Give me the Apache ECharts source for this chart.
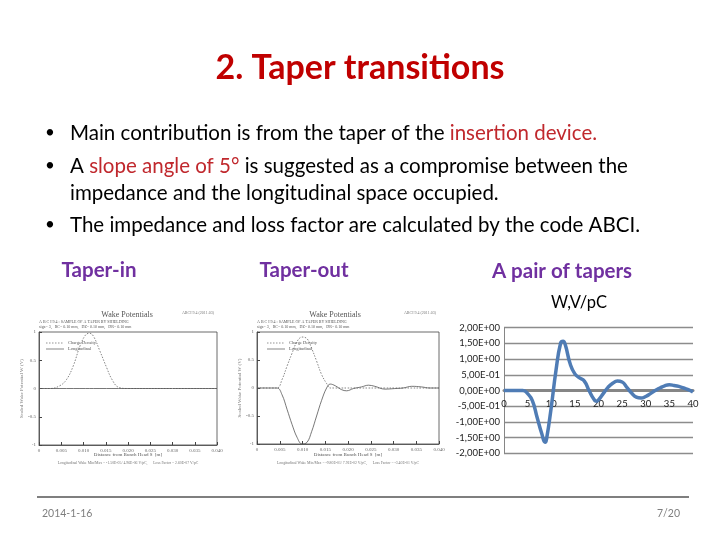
<!DOCTYPE html>
<html><head><meta charset="utf-8">
<script src="https://cdn.jsdelivr.net/npm/echarts@6/dist/echarts.min.js"></script>
<style>html,body{margin:0;padding:0;background:#fff}#c{width:720px;height:540px}</style>
</head><body><div id="c"></div>
<script>
// ---- Main chart: W, V/pC for a pair of tapers ----
const wakeX = [0, 1, 2, 3, 4, 5, 6, 7, 8, 8.7, 9, 10, 11, 12, 12.5, 13, 14, 15, 16, 17, 18, 19, 19.6, 20, 21, 22, 23, 24, 25, 26, 27, 28, 29, 30, 31, 32, 33, 34, 35, 36, 37, 38, 39, 40];
const wakeY = [0, 0, 0, 0, 0, -0.1, -0.32, -0.85, -1.38, -1.65, -1.55, -0.53, 0.64, 1.52, 1.57, 1.44, 0.85, 0.53, 0.40, 0.30, 0.0, -0.27, -0.34, -0.30, -0.10, 0.10, 0.23, 0.30, 0.27, 0.10, -0.08, -0.21, -0.24, -0.19, -0.10, 0.0, 0.08, 0.15, 0.18, 0.16, 0.13, 0.08, 0.03, -0.05];
const yTickLabels = ['-2,00E+00', '-1,50E+00', '-1,00E+00', '-5,00E-01', '0,00E+00', '5,00E-01', '1,00E+00', '1,50E+00', '2,00E+00'];
const xTickLabels = ['0', '5', '10', '15', '20', '25', '30', '35', '40'];

// ---- Taper-in (ABCI wake potentials) ----
const inX = [0, 0.0025, 0.0047, 0.0062, 0.0077, 0.0092, 0.0104, 0.0113, 0.0122, 0.0137, 0.0152, 0.0164, 0.0179, 0.02, 0.03, 0.04];
const inCharge = [0, 0, 0.05, 0.16, 0.40, 0.75, 0.94, 0.98, 0.93, 0.66, 0.37, 0.16, 0.02, 0, 0, 0];
const inLong = [0, 0, 0, 0, 0, 0, 0, 0, 0, 0, 0, 0, 0, 0, 0, 0];
const inTicks = ['0', '0.005', '0.010', '0.015', '0.020', '0.025', '0.030', '0.035', '0.040'];

// ---- Taper-out (ABCI wake potentials) ----
const outX = [0, 0.0044, 0.0055, 0.0066, 0.0077, 0.0088, 0.0099, 0.011, 0.012, 0.0131, 0.0142, 0.0153, 0.0161, 0.0172, 0.0186, 0.0197, 0.0212, 0.023, 0.0245, 0.0259, 0.0281, 0.0303, 0.0321, 0.034, 0.0361, 0.038, 0.04];
const outCharge = [0, 0, 0.15, 0.39, 0.62, 0.83, 0.91, 0.88, 0.71, 0.48, 0.24, 0.08, 0.0, 0, 0, 0, 0, 0, 0, 0, 0, 0, 0, 0, 0, 0, 0];
const outLong = [0, 0, -0.12, -0.38, -0.65, -0.88, -1.0, -0.97, -0.78, -0.5, -0.22, 0.0, 0.07, 0.04, -0.03, -0.05, -0.01, 0.02, 0.05, 0.03, -0.02, -0.01, 0.0, 0.03, 0.02, 0.0, 0.0];
const outTicks = ['0', '0.005', '0.010', '0.015', '0.020', '0.025', '0.030', '0.035', '0.040'];
const smallYTicks = ['-1', '-0.5', '0', '0.5', '1'];

const pairs = (xs, ys) => xs.map((x, i) => [x, ys[i]]);
const chart = echarts.init(document.getElementById('c'));
const F = 'Lato, "Open Sans", sans-serif';
const S = '"Liberation Serif", serif';

function smallX(grid, ticks) {
  return {
    type: 'value', gridIndex: grid, min: 0, max: 0.04, interval: 0.005,
    axisLine: { onZero: false, lineStyle: { color: '#444', width: 0.8 } },
    axisTick: { inside: true, length: 3, lineStyle: { color: '#444' } },
    splitLine: { show: false },
    axisLabel: { fontSize: 5, color: '#666', fontFamily: S, margin: 3,
      formatter: (v) => ticks[Math.round(v / 0.005)] }
  };
}
function smallY(grid) {
  return {
    type: 'value', gridIndex: grid, min: -1, max: 1, interval: 0.5,
    axisLine: { onZero: false, lineStyle: { color: '#444', width: 0.8 } },
    axisTick: { inside: true, length: 3, lineStyle: { color: '#444' } },
    splitLine: { show: false },
    axisLabel: { fontSize: 5, color: '#666', fontFamily: S, margin: 3,
      formatter: (v) => smallYTicks[Math.round((v + 1) / 0.5)] },
    name: 'Scaled Wake Potential W (V)', nameLocation: 'middle', nameGap: 14,
    nameTextStyle: { fontSize: 5, color: '#777', fontFamily: S }
  };
}

function txt(x, y, text, opts) {
  return Object.assign({ type: 'text', x: x, y: y, silent: true,
    style: Object.assign({ text: text, fill: '#000', font: '20.5px ' + F, textAlign: 'left', textVerticalAlign: 'middle' }, opts || {}) });
}

const red = '#C0282D';
const purple = '#7030A0';
const B = '20.5px ' + F;
const graphics = [
  txt(360, 68, '2. Taper transitions', { font: 'bold 34px ' + F, fill: '#C00000', textAlign: 'center' }),
  txt(45, 133, '•', { font: '17px ' + F }),
  txt(70, 133, '{a|Main contribution is from the taper of the }{b|insertion device.}', {
    rich: { a: { font: B, fill: '#000' }, b: { font: B, fill: red } } }),
  txt(45, 166, '•', { font: '17px ' + F }),
  txt(70, 166, '{a|A }{b|slope angle of 5°}{a| is suggested as a compromise between the}', {
    rich: { a: { font: B, fill: '#000' }, b: { font: B, fill: red } } }),
  txt(70, 193, 'impedance and the longitudinal space occupied.', { font: B }),
  txt(45, 225, '•', { font: '17px ' + F }),
  txt(70, 225, 'The impedance and loss factor are calculated by the code ABCI.', { font: B }),
  txt(99, 270, 'Taper-in', { font: 'bold 20.5px ' + F, fill: purple, textAlign: 'center' }),
  txt(304, 270, 'Taper-out', { font: 'bold 20.5px ' + F, fill: purple, textAlign: 'center' }),
  txt(562, 271, 'A pair of tapers', { font: 'bold 20.5px ' + F, fill: purple, textAlign: 'center' }),
  txt(579, 303, 'W,V/pC', { font: '16.5px ' + F, textAlign: 'center' }),
  // footer
  { type: 'rect', silent: true, shape: { x: 37, y: 496, width: 652, height: 2 }, style: { fill: '#7f7f7f' } },
  txt(42, 514, '2014-1-16', { font: '10.5px ' + F, fill: '#7f7f7f' }),
  txt(680, 514, '7/20', { font: '10.5px ' + F, fill: '#7f7f7f', textAlign: 'right' }),
  // taper-in ABCI annotations
  txt(127, 315, 'Wake Potentials', { font: '8px ' + S, fill: '#555', textAlign: 'center' }),
  txt(198, 313, 'ABCI 9.4 (2011.03)', { font: '4px ' + S, fill: '#777', textAlign: 'center' }),
  txt(39, 322, 'A B C I 9.4 : SAMPLE OF A TAPER BY SHIELDING', { font: '4px ' + S, fill: '#555' }),
  txt(39, 327, 'sigz= 3,   RC= 0.10 mm,   DZ= 0.10 mm,   DR= 0.10 mm', { font: '4px ' + S, fill: '#555' }),
  txt(68, 343, 'Charge Density', { font: '4.5px ' + S, fill: '#555' }),
  txt(68, 349, 'Longitudinal', { font: '4.5px ' + S, fill: '#555' }),
  { type: 'line', silent: true, shape: { x1: 46, y1: 343, x2: 64, y2: 343 }, style: { stroke: '#666', lineWidth: 0.7, lineDash: [1.5, 1.5] } },
  { type: 'line', silent: true, shape: { x1: 46, y1: 349, x2: 64, y2: 349 }, style: { stroke: '#555', lineWidth: 0.7 } },
  txt(128, 455, 'Distance from Bunch Head S  [m]', { font: '5px ' + S, fill: '#555', textAlign: 'center' }),
  txt(128, 463, 'Longitudinal Wake Min/Max = -1.50E-05/ 4.96E-06 V/pC,      Loss Factor = 2.60E-07 V/pC', { font: '3.8px ' + S, fill: '#777', textAlign: 'center' }),
  // taper-out ABCI annotations
  txt(335, 315, 'Wake Potentials', { font: '8px ' + S, fill: '#555', textAlign: 'center' }),
  txt(420, 313, 'ABCI 9.4 (2011.03)', { font: '4px ' + S, fill: '#777', textAlign: 'center' }),
  txt(257, 322, 'A B C I 9.4 : SAMPLE OF A TAPER BY SHIELDING', { font: '4px ' + S, fill: '#555' }),
  txt(257, 327, 'sigz= 3,   RC= 0.10 mm,   DZ= 0.10 mm,   DR= 0.10 mm', { font: '4px ' + S, fill: '#555' }),
  txt(289, 343, 'Charge Density', { font: '4.5px ' + S, fill: '#555' }),
  txt(289, 349, 'Longitudinal', { font: '4.5px ' + S, fill: '#555' }),
  { type: 'line', silent: true, shape: { x1: 267, y1: 343, x2: 285, y2: 343 }, style: { stroke: '#666', lineWidth: 0.7, lineDash: [1.5, 1.5] } },
  { type: 'line', silent: true, shape: { x1: 267, y1: 349, x2: 285, y2: 349 }, style: { stroke: '#555', lineWidth: 0.7 } },
  txt(348, 455, 'Distance from Bunch Head S  [m]', { font: '5px ' + S, fill: '#555', textAlign: 'center' }),
  txt(348, 463, 'Longitudinal Wake Min/Max = -9.80E-01/ 7.91E-02 V/pC,      Loss Factor = -3.40E-01 V/pC', { font: '3.8px ' + S, fill: '#777', textAlign: 'center' })
];

const option = {
  backgroundColor: '#fff',
  animation: false,
  grid: [
    { left: 39, top: 332, width: 178, height: 113, show: true, borderColor: '#444', borderWidth: 0.8 },
    { left: 257, top: 332, width: 182, height: 112, show: true, borderColor: '#444', borderWidth: 0.8 },
    { left: 504, top: 327.7, width: 189, height: 125.6 }
  ],
  xAxis: [
    smallX(0, inTicks),
    smallX(1, outTicks),
    {
      type: 'value', gridIndex: 2, min: 0, max: 40, interval: 5, position: 'bottom',
      offset: -62.8,
      axisLine: { onZero: false, lineStyle: { color: '#868686', width: 3 } },
      axisTick: { show: false },
      splitLine: { show: false },
      axisLabel: { fontSize: 9.5, color: '#222', fontFamily: F, margin: 8,
        formatter: (v) => xTickLabels[Math.round(v / 5)] }
    }
  ],
  yAxis: [
    smallY(0),
    smallY(1),
    {
      type: 'value', gridIndex: 2, min: -2, max: 2, interval: 0.5,
      axisLine: { show: true, lineStyle: { color: '#868686', width: 1 } },
      axisTick: { show: false },
      splitLine: { show: true, lineStyle: { color: '#8c8c8c', width: 1.3 } },
      axisLabel: { fontSize: 9.5, color: '#222', fontFamily: F, margin: 4,
        formatter: (v) => yTickLabels[Math.round((v + 2) / 0.5)] }
    }
  ],
  series: [
    { type: 'line', xAxisIndex: 0, yAxisIndex: 0, data: pairs(inX, inCharge), smooth: 0.4, showSymbol: false,
      lineStyle: { color: '#666', width: 0.8, type: [1.5, 1.5] } },
    { type: 'line', xAxisIndex: 0, yAxisIndex: 0, data: pairs(inX, inLong), showSymbol: false,
      lineStyle: { color: '#555', width: 0.8 } },
    { type: 'line', xAxisIndex: 1, yAxisIndex: 1, data: pairs(outX, outCharge), smooth: 0.4, showSymbol: false,
      lineStyle: { color: '#666', width: 0.8, type: [1.5, 1.5] } },
    { type: 'line', xAxisIndex: 1, yAxisIndex: 1, data: pairs(outX, outLong), smooth: 0.4, showSymbol: false,
      lineStyle: { color: '#555', width: 0.8 } },
    { type: 'line', xAxisIndex: 2, yAxisIndex: 2, data: pairs(wakeX, wakeY), smooth: 0.5, showSymbol: false,
      lineStyle: { color: '#4F7CB5', width: 3.5 } }
  ],
  graphic: graphics
};
chart.setOption(option);
</script>
</body></html>
